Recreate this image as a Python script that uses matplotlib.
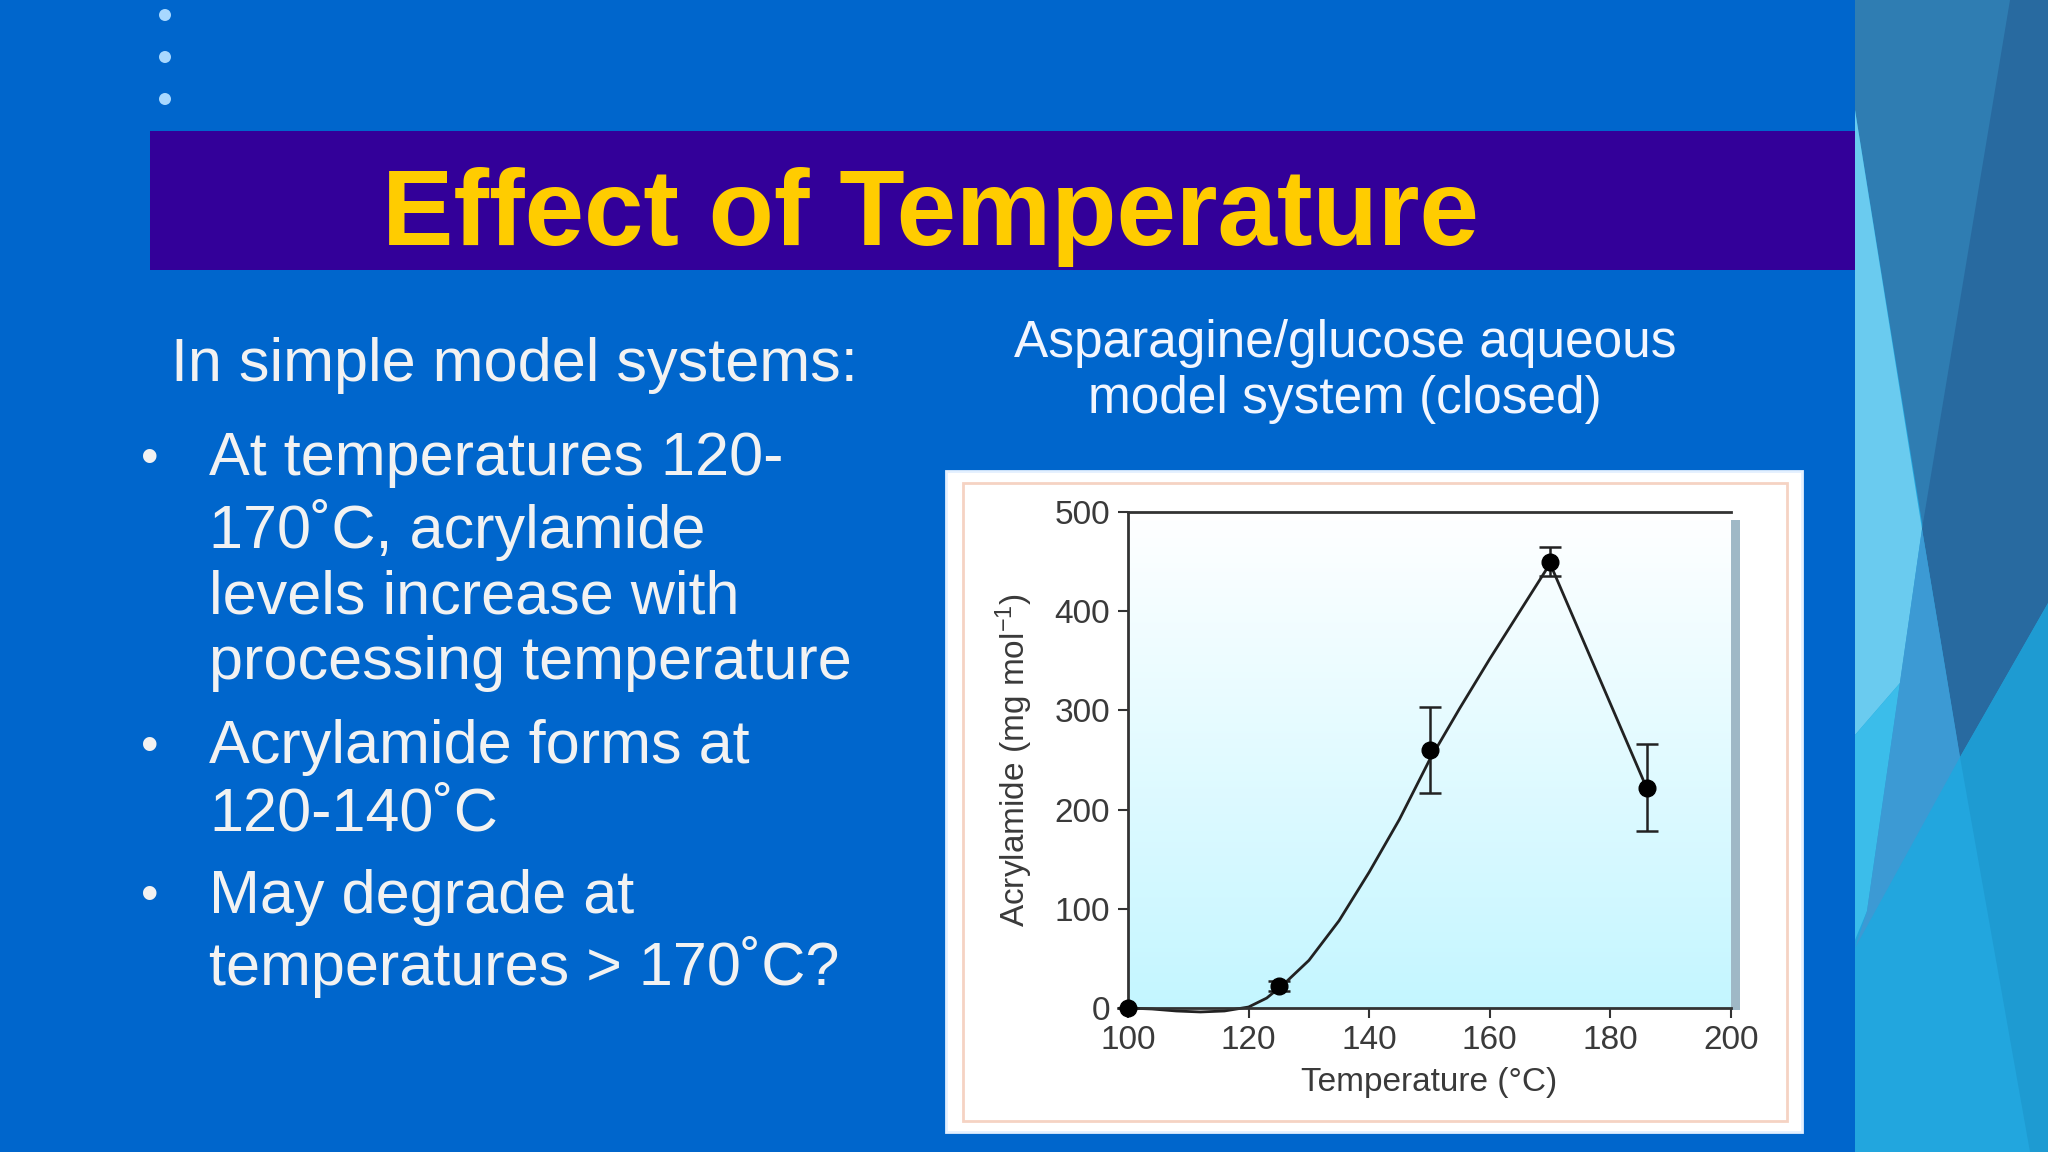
import matplotlib
matplotlib.use("Agg")
import matplotlib.pyplot as plt
import numpy as np
from matplotlib.patches import Rectangle, Polygon, Circle, Arc

plt.rcParams['font.family'] = ['Liberation Sans', 'DejaVu Sans']
plt.rcParams['mathtext.fontset'] = 'custom'
plt.rcParams['mathtext.rm'] = 'Liberation Sans'
plt.rcParams['mathtext.it'] = 'Liberation Sans:italic'

# data
temp = [100, 125, 150, 170, 186]
acrylamide = [0, 22, 260, 450, 222]
err = [0, 5, 43, 15, 44]

# fitted curve as drawn in the figure
curve_x = [100, 104, 108, 112, 116, 120, 123, 126, 130, 135, 140, 145, 150, 155, 160, 165, 170, 186]
curve_y = [0, -1, -3, -4, -3, 1, 10, 25, 48, 88, 137, 190, 250, 302, 352, 400, 448, 222]

xticks = [100, 120, 140, 160, 180, 200]
yticks = [0, 100, 200, 300, 400, 500]

title = 'Effect of Temperature'
heading = 'In simple model systems:'
bullets = [
    ['At temperatures 120-', '170˚C, acrylamide', 'levels increase with', 'processing temperature'],
    ['Acrylamide forms at', '120-140˚C'],
    ['May degrade at', 'temperatures > 170˚C?'],
]
chart_title = ['Asparagine/glucose aqueous', 'model system (closed)']

W, H = 2048, 1152
fig = plt.figure(figsize=(20.48, 11.52), dpi=100)
fig.patch.set_facecolor('#0066CC')

# background layer in pixel coords
bg = fig.add_axes([0, 0, 1, 1])
bg.set_xlim(0, W)
bg.set_ylim(H, 0)
bg.axis('off')

# right decorative panel
bg.add_patch(Rectangle((1855, 0), 193, H, color='#22A6DE', lw=0))
bg.add_patch(Polygon([(1855, 0), (2048, 0), (2048, 603), (1960, 757), (1855, 110)], color='#2F7DB2', lw=0))
bg.add_patch(Polygon([(2010, 0), (2048, 0), (2048, 603), (1960, 757), (1922, 529)], color='#286AA0', lw=0))
bg.add_patch(Polygon([(1855, 110), (1922, 529), (1900, 683), (1855, 735)], color='#6ACBEF', lw=0))
bg.add_patch(Polygon([(1855, 735), (1900, 683), (1867, 911), (1855, 940)], color='#3BBDEA', lw=0))
bg.add_patch(Polygon([(1922, 529), (1960, 757), (1855, 948), (1867, 911)], color='#3C9AD4', lw=0))
bg.add_patch(Polygon([(1960, 757), (2048, 603), (2048, 1152), (2030, 1152)], color='#1E9BD2', lw=0))

# dots top-left
for yy in [15, 57, 99]:
    bg.add_patch(Circle((165, yy), 6, color='#A8D8FF', lw=0))

# title band
bg.add_patch(Rectangle((150, 131), 1705, 139, color='#330099', lw=0))
bg.text(930, 217, title, color='#FFCC00', fontsize=77, fontweight='bold',
        ha='center', va='center')

# left text
bg.text(171, 366, heading, color='#F2F2F2', fontsize=44, ha='left', va='center')
line_y = [[460, 530, 598, 664], [748, 815], [897, 967]]
for lines, ys in zip(bullets, line_y):
    bg.text(150, ys[0], '•', color='#F2F2F2', fontsize=36, ha='center', va='center')
    for s, yy in zip(lines, ys):
        bg.text(209, yy, s, color='#F2F2F2', fontsize=44, ha='left', va='center')

# chart title
bg.text(1345, 344, chart_title[0], color='#F2F6FF', fontsize=37, ha='center', va='center')
bg.text(1345, 399, chart_title[1], color='#F2F6FF', fontsize=37, ha='center', va='center')

# figure box
bg.add_patch(Rectangle((946, 471), 856, 661, facecolor='white', edgecolor='#E3F0FF', lw=2))
bg.add_patch(Rectangle((963, 483), 824, 638, facecolor='none', edgecolor='#F5D3C3', lw=2))
# shadow on right side of the plot area
bg.add_patch(Rectangle((1730, 520), 10, 490, color='#9FB8C6', lw=0))

# bottom-left logo fragment
bg.add_patch(Arc((118, 1190), 120, 120, theta1=20, theta2=170, color='#9FD3FF', lw=4, ls=(0, (4, 2))))

# chart axes
ax = fig.add_axes([1128 / W, 1 - 1008 / H, 603 / W, 496 / H])
grad = np.linspace(0, 1, 256).reshape(-1, 1)
ax.imshow(grad, extent=[100, 200, 0, 500], aspect='auto', origin='lower',
          cmap=matplotlib.colors.LinearSegmentedColormap.from_list('g', ['#C4F6FF', '#FFFFFF']),
          zorder=0)

ax.plot(curve_x, curve_y, color='#222222', lw=2, zorder=2, clip_on=False)
ax.errorbar(temp, acrylamide, yerr=err, fmt='o', color='black', ms=12,
            ecolor='#222222', elinewidth=1.8, capsize=8, capthick=1.8, zorder=3, clip_on=False)

ax.set_xlim(100, 200)
ax.set_ylim(0, 500)
ax.set_xticks(xticks)
ax.set_yticks(yticks)
ax.tick_params(axis='both', direction='out', length=7, width=1.5, color='#333333',
               labelsize=24, labelcolor='#3A3A3A')
ax.tick_params(axis='y', pad=6)
ax.tick_params(axis='x', pad=5)
for side in ['left', 'bottom', 'top']:
    ax.spines[side].set_color('#333333')
    ax.spines[side].set_linewidth(2)
ax.spines['right'].set_visible(False)

ax.set_xlabel('Temperature (°C)', fontsize=24, color='#3A3A3A', labelpad=8)
ax.set_ylabel(r'Acrylamide (mg mol$^{-1}$)', fontsize=24, color='#3A3A3A', labelpad=14)

plt.savefig('out.png', dpi=100, facecolor=fig.get_facecolor())
plt.close()
